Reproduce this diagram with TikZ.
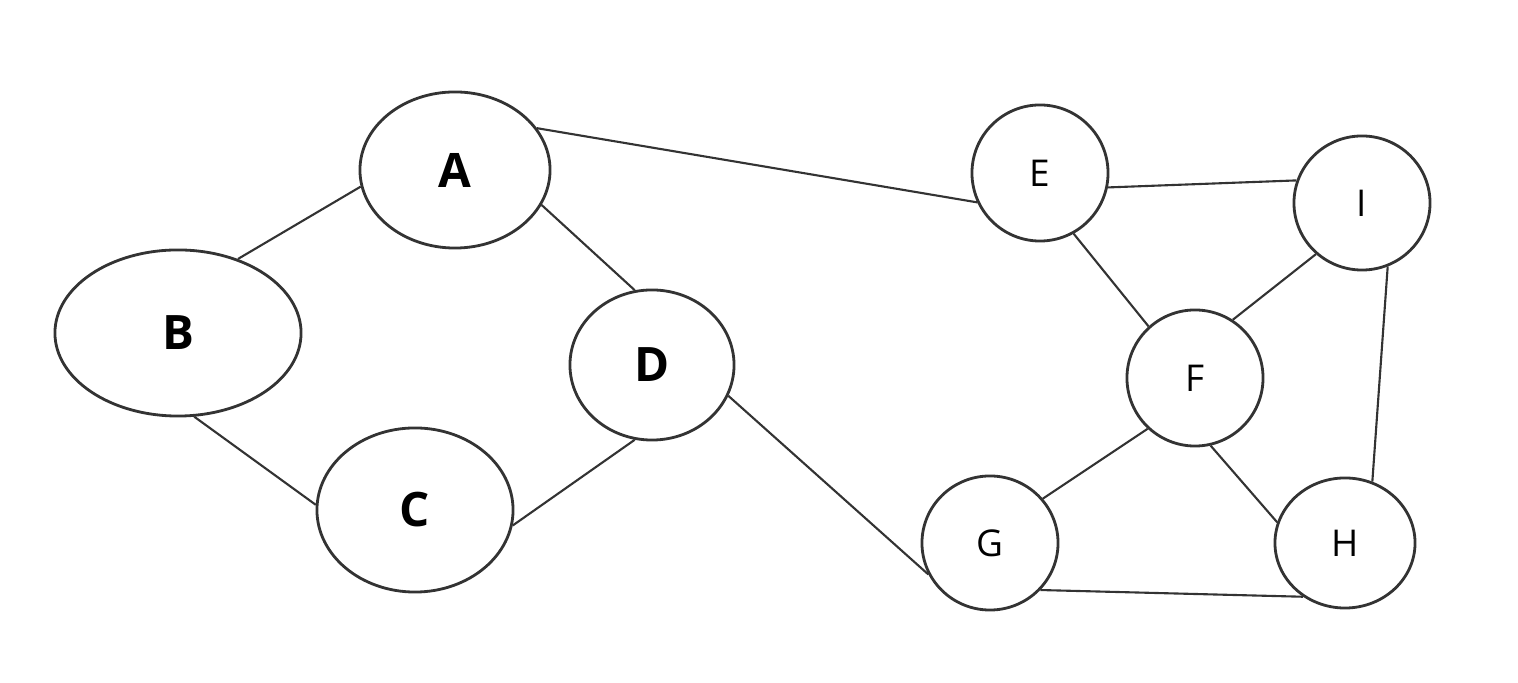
\documentclass[tikz,border=0pt]{standalone}
\usepackage{fontspec}
\setmainfont{Open Sans}
\usetikzlibrary{shapes.geometric}

\begin{document}
\begin{tikzpicture}[x=0.01cm, y=-0.01cm, line width=0.6pt, color=black!80,
      every node/.append style={ellipse, draw, line width=0.8pt, inner sep=0pt, text=black},
      big/.style={font=\fontsize{13.5}{15}\selectfont\bfseries},
      small/.style={font=\fontsize{10.5}{12}\selectfont, minimum width=1.36cm, minimum height=1.36cm}]
      \useasboundingbox (0,0) rectangle (1518,683);
      % left group
      \node (A) [big, minimum width=1.9cm, minimum height=1.56cm] at (455,170) {A};
      \node (B) [big, minimum width=2.46cm, minimum height=1.66cm] at (178,333) {B};
      \node (C) [big, minimum width=1.96cm, minimum height=1.64cm] at (415,510) {C};
      \node (D) [big, minimum width=1.64cm, minimum height=1.5cm] at (652,365) {D};
      % right group
      \node (E) [small] at (1040,173) {E};
      \node (I) [small, minimum height=1.34cm] at (1362,203) {I};
      \node (F) [small] at (1195,378) {F};
      \node (G) [small, minimum height=1.34cm] at (990,543) {G};
      \node (H) [small, minimum width=1.4cm, minimum height=1.3cm] at (1345,543) {H};
      % edges
      \draw (A.190) -- (B.51);
      \draw (A.-22) -- (D.103);
      \draw (A.27) -- (E.205);
      \draw (B.-79) -- (C.177);
      \draw (C.-9) -- (D.257);
      \draw (D.-22) -- (G.207);
      \draw (E.-12) -- (I.161);
      \draw (E.-61) -- (F.132);
      \draw (I.228) -- (F.57);
      \draw (I.-68) -- (H.66);
      \draw (F.227) -- (G.40);
      \draw (F.-77) -- (H.163);
      \draw (G.-43) -- (H.232);
\end{tikzpicture}
\end{document}
